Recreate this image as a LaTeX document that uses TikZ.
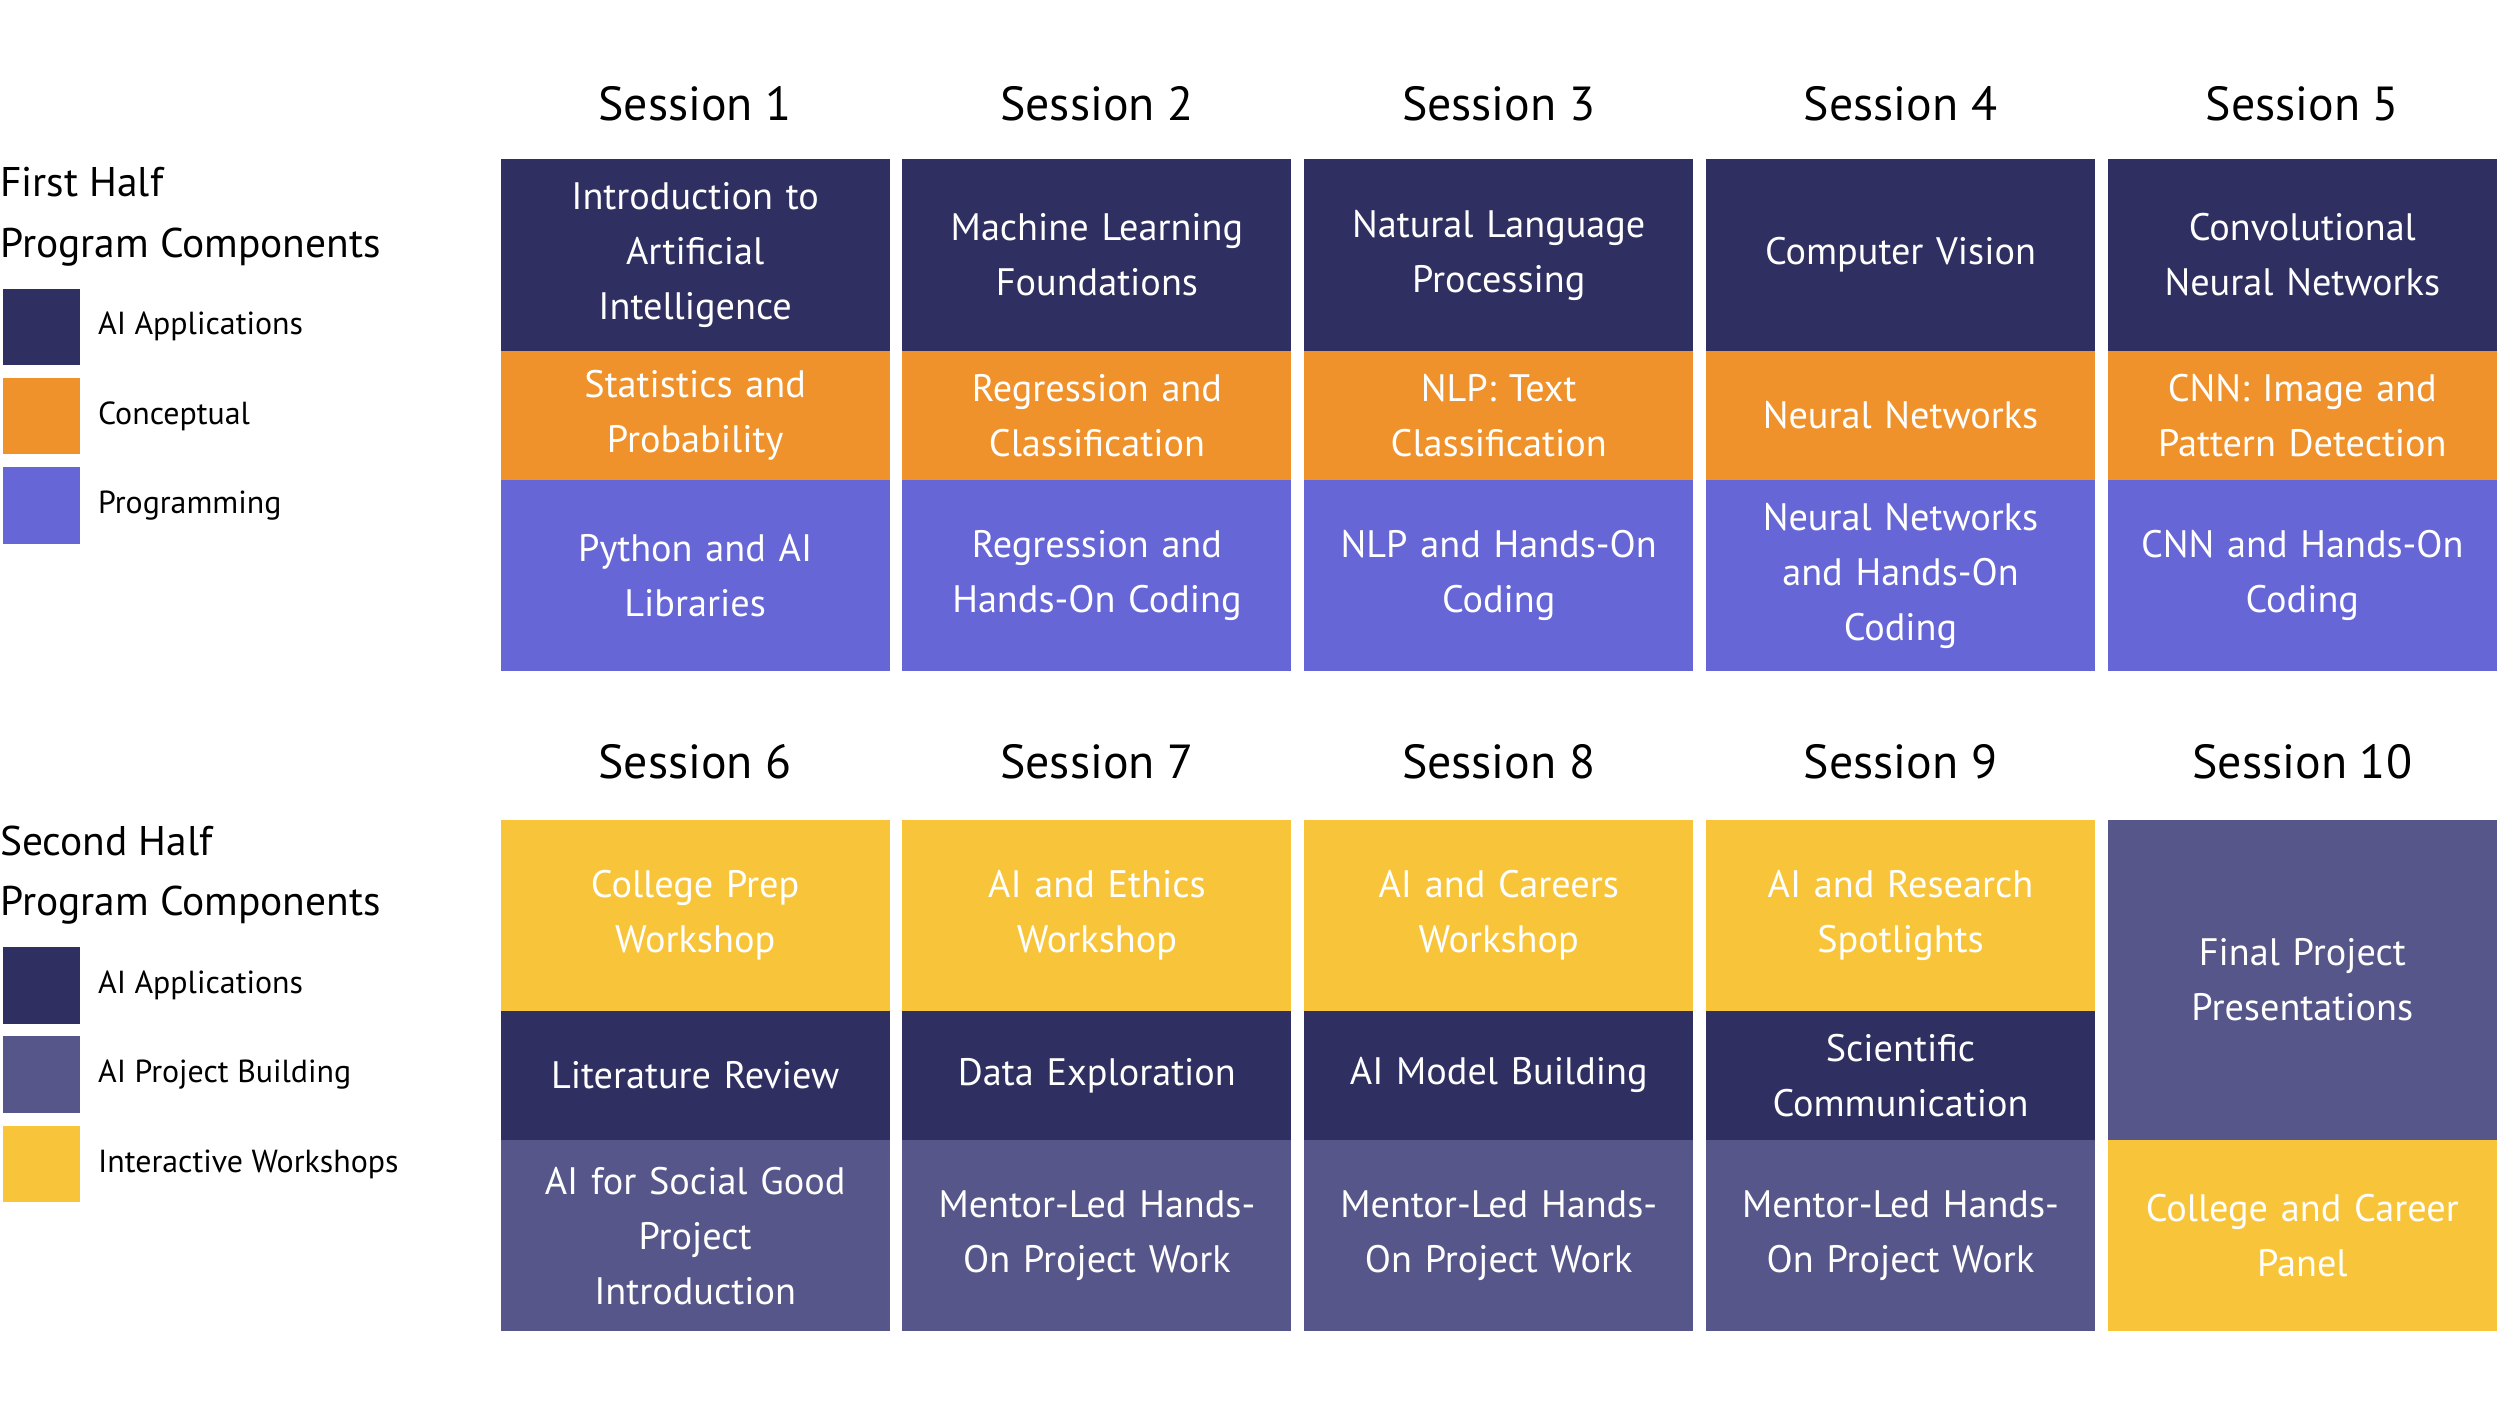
\documentclass[tikz,border=0pt]{standalone}
\usepackage{fontspec}
\setmainfont{PT Sans}
\definecolor{navy}{HTML}{2F2F62}
\definecolor{orng}{HTML}{F0922B}
\definecolor{blu}{HTML}{6666D6}
\definecolor{yel}{HTML}{F8C53A}
\definecolor{gp}{HTML}{56568A}
\begin{document}
\begin{tikzpicture}[x=1pt,y=-1pt,
  cell/.style={inner sep=0pt,text=white,align=center,text width=236pt,font=\fontsize{24}{34.5}\selectfont},
  ttl/.style={font=\fontsize{30}{36}\selectfont},
  lg/.style={anchor=west,font=\fontsize{20}{24}\selectfont},
  hd/.style={anchor=west,font=\fontsize{26}{38}\selectfont,align=left,inner sep=0pt}]
\useasboundingbox[fill=white] (0,0) rectangle (1568,882);
\newcommand\cellbox[6]{% name x y1 y2 color text
  \fill[#5] (#2,#3) rectangle ++(244,#4-#3);
  \node[cell] (#1) at (#2+122,{(#3+#4)/2}) {#6};}
% titles
\foreach \i/\x in {1/314,2/566,3/818,4/1070,5/1322}
  \node[ttl] (s\i) at (\x+122,65) {Session \i};
\foreach \i/\x in {6/314,7/566,8/818,9/1070,10/1322}
  \node[ttl] (s\i) at (\x+122,478) {Session \i};
% first half
\cellbox{a1}{314}{100}{220}{navy}{Introduction to\\Artificial\\Intelligence}
\cellbox{b1}{314}{220}{301}{orng}{Statistics and\\Probability}
\cellbox{c1}{314}{301}{421}{blu}{Python and AI\\Libraries}
\cellbox{a2}{566}{100}{220}{navy}{Machine Learning\\Foundations}
\cellbox{b2}{566}{220}{301}{orng}{Regression and\\Classification}
\cellbox{c2}{566}{301}{421}{blu}{Regression and\\Hands-On Coding}
\cellbox{a3}{818}{100}{220}{navy}{Natural Language\\Processing}
\cellbox{b3}{818}{220}{301}{orng}{NLP: Text\\Classification}
\cellbox{c3}{818}{301}{421}{blu}{NLP and Hands-On\\Coding}
\cellbox{a4}{1070}{100}{220}{navy}{Computer Vision}
\cellbox{b4}{1070}{220}{301}{orng}{Neural Networks}
\cellbox{c4}{1070}{301}{421}{blu}{Neural Networks\\and Hands-On\\Coding}
\cellbox{a5}{1322}{100}{220}{navy}{Convolutional\\Neural Networks}
\cellbox{b5}{1322}{220}{301}{orng}{CNN: Image and\\Pattern Detection}
\cellbox{c5}{1322}{301}{421}{blu}{CNN and Hands-On\\Coding}
% second half
\cellbox{d6}{314}{514}{634}{yel}{College Prep\\Workshop}
\cellbox{e6}{314}{634}{715}{navy}{Literature Review}
\cellbox{f6}{314}{715}{835}{gp}{AI for Social Good\\Project\\Introduction}
\cellbox{d7}{566}{514}{634}{yel}{AI and Ethics\\Workshop}
\cellbox{e7}{566}{634}{715}{navy}{Data Exploration}
\cellbox{f7}{566}{715}{835}{gp}{Mentor-Led Hands-\\On Project Work}
\cellbox{d8}{818}{514}{634}{yel}{AI and Careers\\Workshop}
\cellbox{e8}{818}{634}{715}{navy}{AI Model Building}
\cellbox{f8}{818}{715}{835}{gp}{Mentor-Led Hands-\\On Project Work}
\cellbox{d9}{1070}{514}{634}{yel}{AI and Research\\Spotlights}
\cellbox{e9}{1070}{634}{715}{navy}{Scientific\\Communication}
\cellbox{f9}{1070}{715}{835}{gp}{Mentor-Led Hands-\\On Project Work}
\cellbox{d10}{1322}{514}{715}{gp}{Final Project\\Presentations}
\cellbox{f10}{1322}{715}{835}{yel}{College and Career\\Panel}
% legends
\node[hd] (h1) at (0,136) {First Half\\Program Components};
\fill[navy] (2,181) rectangle (50,229); \node[lg] (l1) at (58,205) {AI Applications};
\fill[orng] (2,237) rectangle (50,285); \node[lg] (l2) at (58,261) {Conceptual};
\fill[blu] (2,293) rectangle (50,341); \node[lg] (l3) at (58,317) {Programming};
\node[hd] (h2) at (0,549) {Second Half\\Program Components};
\fill[navy] (2,594) rectangle (50,642); \node[lg] (l4) at (58,618) {AI Applications};
\fill[gp] (2,650) rectangle (50,698); \node[lg] (l5) at (58,674) {AI Project Building};
\fill[yel] (2,706) rectangle (50,754); \node[lg] (l6) at (58,730) {Interactive Workshops};
\end{tikzpicture}
\end{document}
